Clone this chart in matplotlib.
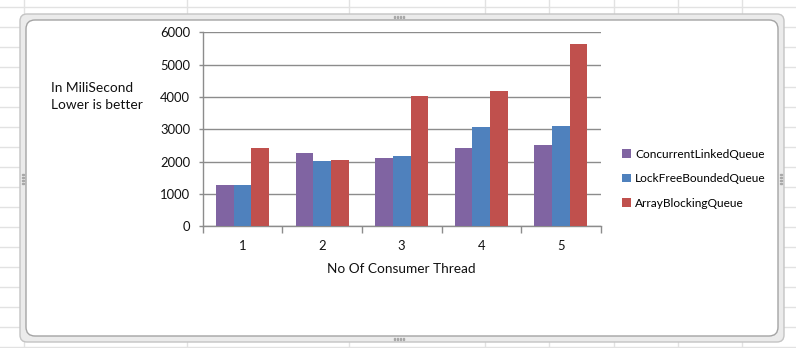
import matplotlib
matplotlib.use("Agg")
import matplotlib.pyplot as plt
from matplotlib.patches import FancyBboxPatch, Rectangle
import numpy as np

plt.rcParams['font.family'] = ['Lato', 'DejaVu Sans']

categories = ["1", "2", "3", "4", "5"]
series_names = ["ConcurrentLinkedQueue", "LockFreeBoundedQueue", "ArrayBlockingQueue"]
concurrent_linked = [1280, 2270, 2110, 2420, 2515]
lock_free_bounded = [1280, 2020, 2180, 3070, 3100]
array_blocking = [2420, 2050, 4030, 4190, 5640]
y_ticks = [0, 1000, 2000, 3000, 4000, 5000, 6000]
colors = ["#8064A2", "#4F81BD", "#C0504D"]

W, H = 796, 348
fig = plt.figure(figsize=(W / 100, H / 100), dpi=100)

# sheet background in pixel coordinates
bg = fig.add_axes([0, 0, 1, 1])
bg.set_xlim(0, W)
bg.set_ylim(H, 0)
bg.axis("off")
grid_c = "#E2E2E2"
for y in range(7, H + 1, 20):
    bg.plot([0, W], [y, y], color=grid_c, lw=1, zorder=0)
for x in [24, 187, 349, 485, 549, 614, 678, 742]:
    bg.plot([x, x], [0, H], color=grid_c, lw=1, zorder=0)

# chart frame
outer = FancyBboxPatch((20, 14), 764, 328, boxstyle="round,pad=0,rounding_size=7",
                       facecolor="#EBEBEB", edgecolor="#C4C4C4", lw=1, zorder=2)
bg.add_patch(outer)
inner = FancyBboxPatch((26, 20), 752, 316, boxstyle="round,pad=0,rounding_size=9",
                       facecolor="white", edgecolor="#A4A4A4", lw=1, zorder=3)
bg.add_patch(inner)
for cx, cy, horiz in [(398, 17, True), (398, 339, True), (23, 178, False), (781, 178, False)]:
    for k in range(-3, 4, 2):
        if horiz:
            bg.add_patch(Rectangle((cx + k * 1.5, cy - 0.7), 1.2, 1.4, color="#A8A8A8", zorder=4))
        else:
            bg.add_patch(Rectangle((cx - 0.7, cy + k * 1.5), 1.4, 1.2, color="#A8A8A8", zorder=4))

bg.text(51, 88, "In MiliSecond", fontsize=9.9, color="#111111", va="center", ha="left", zorder=5)
bg.text(51, 105, "Lower is better", fontsize=9.9, color="#111111", va="center", ha="left", zorder=5)

# plot area
x0, x1, y0, y1 = 202.7, 600.7, 32.3, 226.3
ax = fig.add_axes([x0 / W, (H - y1) / H, (x1 - x0) / W, (y1 - y0) / H])
ax.set_facecolor("none")
ax.set_zorder(5)

x = np.arange(len(categories))
bw = 1 / 4.5
for i, (vals, name) in enumerate(zip([concurrent_linked, lock_free_bounded, array_blocking], series_names)):
    ax.bar(x + (i - 1) * bw, vals, width=bw, color=colors[i], label=name, zorder=3, linewidth=0)

ax.set_xlim(-0.5, len(categories) - 0.5)
ax.set_ylim(0, 6000)
ax.set_yticks(y_ticks)
ax.set_yticklabels([str(v) for v in y_ticks], fontsize=9.4, color="#111111")
ax.yaxis.grid(True, color="#8C8C8C", lw=1)
ax.set_axisbelow(True)

ax.set_xticks(np.arange(-0.5, len(categories)), minor=False)
ax.set_xticklabels([])
ax.set_xticks(x, minor=True)
ax.set_xticklabels(categories, minor=True, fontsize=9.4, color="#111111")
ax.tick_params(axis="x", which="major", length=5, color="#8C8C8C", width=1)
ax.tick_params(axis="x", which="minor", length=0, pad=10)
ax.tick_params(axis="y", length=3, color="#8C8C8C", width=1, pad=6)

for s in ["top", "right"]:
    ax.spines[s].set_visible(False)
for s in ["left", "bottom"]:
    ax.spines[s].set_color("#8C8C8C")
    ax.spines[s].set_linewidth(1)

ax.set_xlabel("No Of Consumer Thread", fontsize=9.8, color="#111111", labelpad=8)

leg = ax.legend(loc="upper left", bbox_to_anchor=((617 - x0) / (x1 - x0), (y1 - 144) / (y1 - y0)),
                frameon=False, fontsize=8.6, handlelength=0.75, handleheight=0.75,
                handletextpad=0.35, labelspacing=1.12, borderaxespad=0)

fig.savefig("out.png", dpi=100)
